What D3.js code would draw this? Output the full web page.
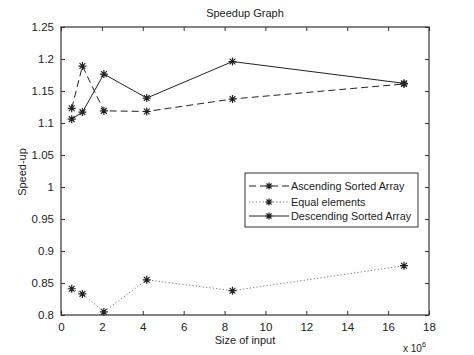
<!DOCTYPE html>
<html><head><meta charset="utf-8">
<script src="https://cdn.jsdelivr.net/npm/d3@7"></script>
<style>body{margin:0;background:#fff}svg{display:block}text{font-family:Arial,"Liberation Sans",sans-serif;fill:#222}</style>
</head><body>
<svg id="c" width="474" height="355"></svg>
<script>
const sizes = [0.524288, 1.048576, 2.097152, 4.194304, 8.388608, 16.777216];
const ascending = [1.123, 1.189, 1.119, 1.118, 1.1375, 1.161];
const equalEl = [0.841, 0.833, 0.805, 0.855, 0.838, 0.877];
const descending = [1.106, 1.117, 1.1765, 1.139, 1.196, 1.162];
const xTicks = [0,2,4,6,8,10,12,14,16,18];
const yTicks = [0.8,0.85,0.9,0.95,1,1.05,1.1,1.15,1.2,1.25];
const seriesNames = ["Ascending Sorted Array","Equal elements","Descending Sorted Array"];

const svg = d3.select("#c");
const L=61, R=429, T=27, B=315;
const x = d3.scaleLinear().domain([0,18]).range([L,R]);
const y = d3.scaleLinear().domain([0.8,1.25]).range([B,T]);
const axisColor="#333";

svg.append("rect").attr("x",L).attr("y",T).attr("width",R-L).attr("height",B-T)
  .attr("fill","none").attr("stroke",axisColor).attr("stroke-width",1.2);

const fmtY = d=> d3.format("")(+d.toFixed(2));
const ax = svg.append("g").attr("transform",`translate(0,${B})`)
  .call(d3.axisBottom(x).tickValues(xTicks).tickSize(-4).tickPadding(8).tickFormat(d3.format("d")));
const axT = svg.append("g").attr("transform",`translate(0,${T})`)
  .call(d3.axisTop(x).tickValues(xTicks).tickSize(-4).tickFormat(""));
const ay = svg.append("g").attr("transform",`translate(${L},0)`)
  .call(d3.axisLeft(y).tickValues(yTicks).tickSize(-4).tickPadding(7).tickFormat(fmtY));
const ayR = svg.append("g").attr("transform",`translate(${R},0)`)
  .call(d3.axisRight(y).tickValues(yTicks).tickSize(-4).tickFormat(""));
[ax,axT,ay,ayR].forEach(g=>{
  g.select(".domain").remove();
  g.selectAll("line").attr("stroke",axisColor);
  g.selectAll("text").attr("font-size",11.5).attr("fill","#222").attr("font-family","Arial, 'Liberation Sans', sans-serif");
});

const series = [
  {name:seriesNames[0], vals:ascending, dash:"7,4", color:"#222", w:1},
  {name:seriesNames[1], vals:equalEl, dash:"1.2,2.2", color:"#777", w:1},
  {name:seriesNames[2], vals:descending, dash:null, color:"#222", w:1}
];
const line = d3.line().x((d,i)=>x(sizes[i])).y(d=>y(d));
function star(g,cx,cy,r){
  const p = d3.path();
  p.moveTo(cx-r,cy); p.lineTo(cx+r,cy);
  p.moveTo(cx,cy-r); p.lineTo(cx,cy+r);
  const k=r*0.72;
  p.moveTo(cx-k,cy-k); p.lineTo(cx+k,cy+k);
  p.moveTo(cx-k,cy+k); p.lineTo(cx+k,cy-k);
  g.append("path").attr("d",p.toString()).attr("stroke","#222").attr("stroke-width",1.2).attr("fill","none");
}
series.forEach(s=>{
  svg.append("path").datum(s.vals).attr("d",line).attr("fill","none")
    .attr("stroke",s.color).attr("stroke-width",s.w).attr("stroke-dasharray",s.dash);
  const g=svg.append("g");
  s.vals.forEach((v,i)=>star(g,x(sizes[i]),y(v),4));
});

const lg = svg.append("g");
lg.append("rect").attr("x",245).attr("y",173).attr("width",173).attr("height",54)
  .attr("fill","#fff").attr("stroke",axisColor).attr("stroke-width",1);
const rowY=[186,202,216];
series.forEach((s,i)=>{
  lg.append("line").attr("x1",249).attr("x2",289).attr("y1",rowY[i]).attr("y2",rowY[i])
    .attr("stroke",s.color).attr("stroke-width",1).attr("stroke-dasharray",s.dash);
  star(lg,269,rowY[i],3.5);
  lg.append("text").attr("x",291).attr("y",rowY[i]+4).attr("font-size",10.8).text(s.name);
});

svg.append("text").attr("x",245).attr("y",17).attr("text-anchor","middle").attr("font-size",11).text("Speedup Graph");
svg.append("text").attr("x",245).attr("y",344).attr("text-anchor","middle").attr("font-size",11).text("Size of input");
svg.append("text").attr("transform","translate(26,172) rotate(-90)").attr("text-anchor","middle").attr("font-size",11).text("Speed-up");
const xm = svg.append("text").attr("x",403).attr("y",352).attr("font-size",10);
xm.append("tspan").text("x 10");
xm.append("tspan").attr("dy",-5).attr("font-size",7).text("6");
</script>
</body></html>
